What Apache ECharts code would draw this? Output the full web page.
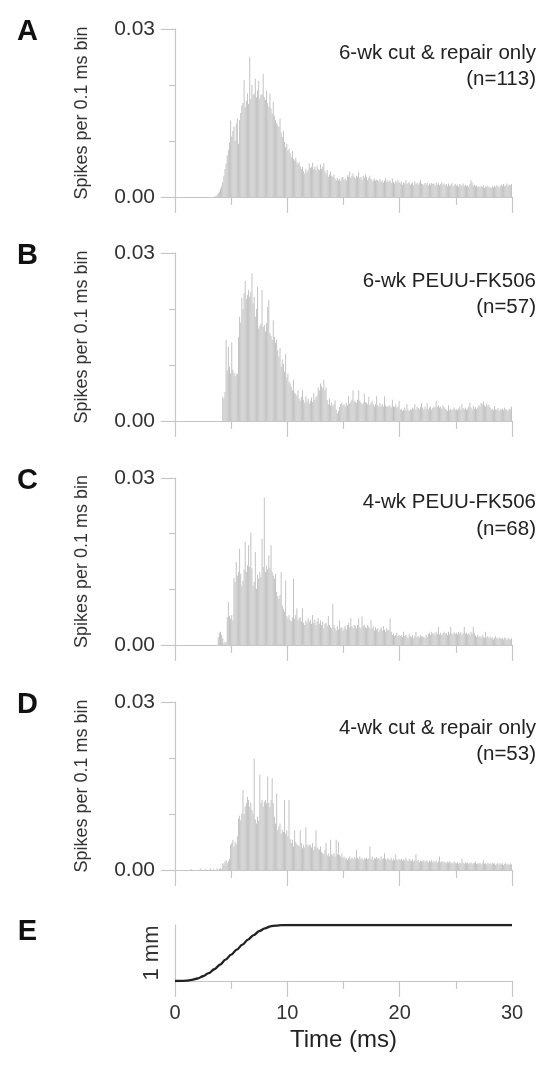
<!DOCTYPE html>
<html>
<head>
<meta charset="utf-8">
<script src="https://cdn.jsdelivr.net/npm/echarts@6/dist/echarts.min.js"></script>
<style>
html,body{margin:0;padding:0;background:#fff;}
#chart{width:550px;height:1067px;}
</style>
</head>
<body>
<div id="chart"></div>
<script>
// ---------------- DATA ----------------
const BIN_WIDTH_MS = 0.1;          // histogram bin width (ms)
const SPIKE_UNIT = 1e-4;           // histogram values below are in units of 1e-4 spikes per bin

// Panel A: 6-wk cut & repair only (n=113), 300 bins of 0.1 ms from 0 to 30 ms
const panelA = [
0,0,0,0,0,0,0,0,0,0,
0,0,0,0,0,0,0,0,0,0,
0,0,0,0,0,0,0,0,0,0,
0,0,0,0,0,1,2,4,7,10,
15,19,27,38,50,60,74,84,97,136,
108,118,126,100,131,140,95,137,150,163,
168,209,160,172,185,166,250,175,200,182,
185,211,178,190,207,176,182,184,220,178,
173,190,168,161,185,158,149,170,145,137,
132,128,125,140,115,107,118,98,89,95,
83,86,78,71,82,68,65,70,62,59,
62,55,50,54,46,42,50,44,48,60,
52,54,61,50,54,48,56,50,48,58,
50,54,60,46,42,48,36,40,45,38,
36,40,33,30,34,30,32,28,35,36,
30,33,30,39,36,45,34,38,42,36,
33,38,36,44,34,36,31,38,35,40,
36,30,34,38,32,28,30,33,29,31,
30,28,32,27,30,26,29,33,27,30,
27,30,25,33,27,24,29,26,31,27,
24,28,22,26,24,30,23,25,27,22,
24,26,21,28,23,25,22,26,30,24,
23,21,25,22,26,20,24,22,25,23,
24,20,26,22,25,21,23,27,22,24,
21,23,19,24,20,22,25,19,21,23,
20,22,18,23,21,19,24,20,22,19,
21,18,23,30,26,20,22,19,21,18,
19,17,20,18,21,16,19,18,20,17,
18,16,19,17,20,18,21,19,17,20,
22,20,23,19,21,24,20,22,21,23
];

// Panel B: 6-wk PEUU-FK506 (n=57)
const panelB = [
0,0,0,0,0,0,0,0,0,0,
0,0,0,0,0,0,0,0,0,0,
0,0,0,0,0,0,0,0,0,0,
0,0,0,0,0,0,0,0,0,0,
0,0,43,40,52,145,90,133,97,85,
140,92,86,80,85,84,150,186,176,220,
200,228,250,218,225,234,222,230,264,210,
222,186,200,240,165,170,174,234,168,172,
160,174,204,216,157,152,145,180,150,140,
145,127,115,130,97,110,102,88,120,78,
85,70,67,61,55,73,50,48,45,55,
40,36,43,55,38,32,44,35,40,31,
36,42,34,50,38,43,45,60,55,67,
62,58,73,55,60,37,30,40,28,33,
26,30,37,20,14,18,25,30,32,28,
30,26,32,28,44,31,35,38,55,36,
34,32,38,55,36,33,30,32,49,34,
32,30,43,28,32,36,30,26,30,44,
28,26,32,27,30,26,44,28,25,27,
26,28,24,38,26,25,30,24,26,36,
20,22,18,20,24,19,30,20,18,21,
20,24,22,30,20,26,23,21,25,32,
24,20,26,22,32,21,24,26,20,23,
26,24,36,25,28,24,26,22,28,25,
22,20,18,28,20,22,19,21,24,20,
21,19,22,26,20,30,23,21,24,20,
22,26,32,24,20,27,22,25,21,24,
28,26,32,30,35,28,26,31,27,29,
24,20,22,19,27,21,20,23,18,22,
20,22,19,24,21,20,18,22,21,26
];

// Panel C: 4-wk PEUU-FK506 (n=68)
const panelC = [
0,0,0,0,0,0,0,0,0,0,
0,0,0,0,0,0,0,0,0,0,
0,0,0,0,0,0,0,0,0,0,
0,0,0,0,0,0,0,0,14,22,
24,18,12,4,6,5,50,77,52,48,
54,44,120,113,149,125,131,173,128,107,
115,135,185,131,143,179,140,202,138,106,
113,167,101,126,119,131,122,191,140,265,
131,143,136,161,138,179,131,125,119,128,
95,88,83,90,131,71,65,60,116,52,
48,54,45,42,50,119,47,54,66,44,
48,50,42,66,40,36,44,39,48,42,
45,38,54,40,46,36,42,48,38,44,
36,42,30,38,40,34,52,36,32,30,
74,36,30,26,34,28,44,30,32,26,
30,34,28,36,40,32,48,34,30,36,
34,30,36,48,32,30,51,34,36,32,
30,36,33,29,45,30,34,26,32,28,
30,24,28,32,26,34,28,24,30,27,
26,48,24,18,20,16,18,22,16,18,
16,18,14,24,16,18,15,12,20,16,
14,18,12,16,24,14,16,13,18,15,
16,14,12,18,15,20,22,18,24,20,
22,18,24,20,33,19,22,18,21,24,
20,22,18,24,20,33,21,19,23,20,
22,19,24,20,23,18,21,33,20,22,
19,21,18,24,20,33,22,17,15,18,
14,16,12,18,15,13,24,14,16,12,
15,12,14,10,13,16,12,11,14,12,
11,13,10,14,12,9,13,11,10,12
];

// Panel D: 4-wk cut & repair only (n=53)
const panelD = [
0,0,0,0,0,0,0,0,0,0,
0,0,0,0,2,0,0,0,0,0,
0,0,3,0,0,0,0,2,0,0,
0,3,0,0,2,0,0,3,0,2,
3,2,12,10,15,18,12,16,20,45,
48,54,42,50,46,60,92,97,89,101,
143,100,113,119,131,125,113,120,107,101,
199,90,83,95,88,170,119,125,113,122,
125,119,167,120,113,125,164,119,95,83,
137,71,78,83,65,72,68,125,65,71,
60,125,55,48,54,42,71,50,46,44,
42,71,48,39,45,40,77,46,42,45,
44,40,48,36,42,71,40,38,36,42,
32,30,28,36,48,26,30,24,54,28,
26,30,24,54,28,50,27,24,30,22,
24,20,22,18,21,24,19,22,20,23,
20,36,22,19,24,20,21,18,22,20,
22,19,21,42,20,24,18,22,20,23,
20,22,18,24,19,21,30,20,18,22,
19,18,22,17,20,18,28,19,17,20,
18,20,16,19,17,22,18,16,20,17,
16,19,15,18,28,16,18,14,17,16,
15,18,14,17,16,13,17,15,18,14,
16,14,17,13,15,24,14,16,13,15,
14,12,15,13,16,12,14,11,15,13,
12,14,11,13,12,20,13,11,14,12,
13,11,12,14,10,13,12,15,11,12,
11,13,10,12,18,11,12,10,13,11,
12,10,13,11,12,9,11,13,10,12,
10,12,9,11,13,10,11,9,12,10
];

// Panel E: stimulus displacement (mm) vs time (ms)
const stimTimeMs = [0,0.5,1,1.5,2,2.5,3,3.5,4,4.5,5,5.5,6,6.5,7,7.5,8,8.5,9,9.5,10,12,15,20,25,30];
const stimDisplacementMm = [0,0,0.005,0.02,0.045,0.085,0.14,0.21,0.29,0.38,0.47,0.56,0.65,0.74,0.82,0.89,0.94,0.975,0.99,0.998,1,1,1,1,1,1];

const panelLetters = ['A','B','C','D','E'];
const panelTitles = ['6-wk cut & repair only','6-wk PEUU-FK506','4-wk PEUU-FK506','4-wk cut & repair only'];
const panelCounts = ['(n=113)','(n=57)','(n=68)','(n=53)'];
const yAxisTitle = 'Spikes per 0.1 ms bin';
const stimAxisTitle = '1 mm';
const timeAxisTitle = 'Time (ms)';

// ---------------- LAYOUT / STYLE ----------------
const FONT = '"Liberation Sans", Arial, Helvetica, sans-serif';
const AXIS_GRAY = '#c6c6c6';
const BAR_GRAY = '#c3c3c3';
const GRID_LEFT = 175, GRID_RIGHT = 38;
const histTops = [29, 253, 478, 702];
const histHeights = [168, 168, 167, 168];
const stimTop = 925, stimHeight = 56;
const letterY = [32, 256, 481, 705, 932];
const titleY = [53, 281, 502, 728];
const countY = [79, 307, 529, 754];

const histPanels = [panelA, panelB, panelC, panelD];
histPanels.forEach((p, i) => {
  if (p.length !== 300) throw new Error('panel ' + i + ' has ' + p.length + ' bins');
});
const binCenters = panelA.map((_, k) => Math.round((k * BIN_WIDTH_MS + BIN_WIDTH_MS / 2) * 100) / 100);

const grids = histTops.map((t, i) => ({left: GRID_LEFT, right: GRID_RIGHT, top: t, height: histHeights[i]}));
grids.push({left: GRID_LEFT, right: GRID_RIGHT, top: stimTop, height: stimHeight});

function xAxisDef(i, showLabels) {
  return {
    type: 'value', gridIndex: i, min: 0, max: 30, interval: 10,
    axisLine: {show: true, onZero: false, lineStyle: {color: AXIS_GRAY, width: 1.2}},
    axisTick: {show: true, length: 16, lineStyle: {color: AXIS_GRAY, width: 1.2}},
    minorTick: {show: true, splitNumber: 2, length: 8, lineStyle: {color: AXIS_GRAY, width: 1.2}},
    splitLine: {show: false}, minorSplitLine: {show: false},
    axisLabel: {show: showLabels, fontFamily: FONT, fontSize: 20, color: '#333', margin: 22},
    name: showLabels ? timeAxisTitle : '',
    nameLocation: 'middle', nameGap: 47,
    nameTextStyle: {fontFamily: FONT, fontSize: 24, color: '#222'}
  };
}

const xAxes = [0,1,2,3].map(i => xAxisDef(i, false));
xAxes.push(xAxisDef(4, true));

const yAxes = [0,1,2,3].map(i => ({
  type: 'value', gridIndex: i, min: 0, max: 0.03, interval: 0.03,
  axisLine: {show: true, lineStyle: {color: AXIS_GRAY, width: 1.2}},
  axisTick: {show: true, length: 14, lineStyle: {color: AXIS_GRAY, width: 1.2}},
  minorTick: {show: true, splitNumber: 3, length: 6, lineStyle: {color: AXIS_GRAY, width: 1.2}},
  splitLine: {show: false}, minorSplitLine: {show: false},
  axisLabel: {formatter: v => v.toFixed(2), fontFamily: FONT, fontSize: 21, color: '#333', margin: 20}
}));
yAxes.push({
  type: 'value', gridIndex: 4, min: 0, max: 1,
  axisLine: {show: true, lineStyle: {color: AXIS_GRAY, width: 1.2}},
  axisTick: {show: false}, axisLabel: {show: false}, splitLine: {show: false}
});

const series = histPanels.map((p, i) => ({
  type: 'bar', xAxisIndex: i, yAxisIndex: i,
  data: p.map((v, k) => [binCenters[k], v * SPIKE_UNIT]),
  barWidth: '82%',
  itemStyle: {color: BAR_GRAY},
  silent: true, animation: false
}));
series.push({
  type: 'line', xAxisIndex: 4, yAxisIndex: 4,
  data: stimTimeMs.map((t, k) => [t, stimDisplacementMm[k]]),
  showSymbol: false, smooth: 0.35, smoothMonotone: 'x',
  lineStyle: {color: '#222', width: 2.3},
  silent: true, animation: false
});

function txt(text, x, y, size, opts) {
  opts = opts || {};
  return {
    type: 'text', x: x, y: y, rotation: opts.rotation || 0, silent: true,
    style: {
      text: text, fill: opts.color || '#222',
      font: (opts.bold ? 'bold ' : '') + size + 'px ' + FONT,
      textAlign: opts.align || 'center', textVerticalAlign: 'middle',
      align: opts.align || 'center', verticalAlign: 'middle'
    }
  };
}

const graphics = [];
panelLetters.forEach((L, i) => graphics.push(txt(L, 27.5, letterY[i], 29, {bold: true, color: '#111'})));
panelTitles.forEach((t, i) => {
  graphics.push(txt(t, 536, titleY[i], 20.5, {align: 'right'}));
  graphics.push(txt(panelCounts[i], 536, countY[i], 20.5, {align: 'right'}));
  graphics.push(txt(yAxisTitle, 82, histTops[i] + histHeights[i] / 2, 18, {rotation: Math.PI / 2, color: '#333'}));
});
graphics.push(txt(stimAxisTitle, 152, 953, 22, {rotation: Math.PI / 2, color: '#333'}));

const chart = echarts.init(document.getElementById('chart'), null, {renderer: 'canvas'});
chart.setOption({
  backgroundColor: '#fff',
  animation: false,
  grid: grids,
  xAxis: xAxes,
  yAxis: yAxes,
  series: series,
  graphic: graphics
});
</script>
</body>
</html>
